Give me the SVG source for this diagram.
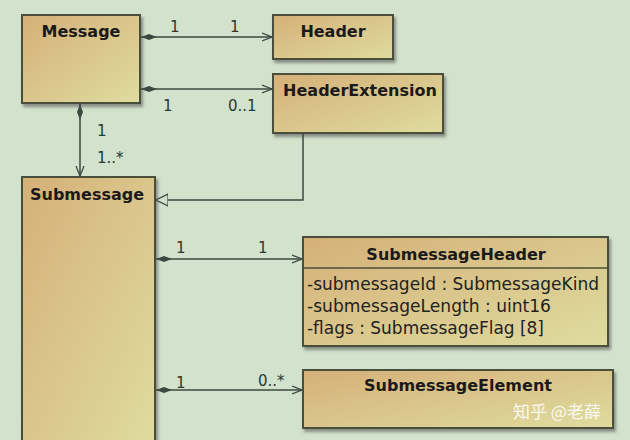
<svg xmlns="http://www.w3.org/2000/svg" width="630" height="440" viewBox="0 0 630 440">
<defs>
<linearGradient id="g" x1="0" y1="0" x2="1" y2="1"><stop offset="0" stop-color="#d5b078"/><stop offset="1" stop-color="#dfdc9f"/></linearGradient>
<filter id="sh" x="-10%" y="-10%" width="130%" height="130%"><feDropShadow dx="2" dy="3" stdDeviation="1.5" flood-color="#555" flood-opacity="0.6"/></filter>
<marker id="dia" viewBox="0 0 16 8" refX="0" refY="4" markerWidth="16" markerHeight="8" markerUnits="userSpaceOnUse" orient="auto"><path d="M0,4 L8,1 L16,4 L8,7 Z" fill="#3a4a40"/></marker>
<marker id="arr" viewBox="0 0 10 10" refX="10" refY="5" markerWidth="10" markerHeight="10" markerUnits="userSpaceOnUse" orient="auto"><path d="M0,1 L10,5 L0,9" fill="none" stroke="#3a4a40" stroke-width="1.3"/></marker>
<marker id="tri" viewBox="0 0 12 14" refX="12" refY="7" markerWidth="12" markerHeight="14" markerUnits="userSpaceOnUse" orient="auto"><path d="M0,1 L12,7 L0,13 Z" fill="#d3e2cc" stroke="#3a4a40" stroke-width="1.2"/></marker>
</defs>
<style>
.box{fill:url(#g);stroke:#4a4f3a;stroke-width:2;filter:url(#sh)}
.t{font-family:"DejaVu Sans",sans-serif;font-weight:bold;font-size:16px;fill:#1a1a1a}
.a{font-family:"DejaVu Sans",sans-serif;font-size:17px;fill:#222}
.m{font-family:"DejaVu Sans",sans-serif;font-size:15px;fill:#2a3a30}
.c{fill:none;stroke:#3a4a40;stroke-width:1.5}
</style>
<rect width="630" height="440" fill="#d3e2cc"/>
<g id="Message"><rect class="box" x="22" y="15" width="118" height="88"/><text class="t" x="81" y="37" text-anchor="middle">Message</text></g>
<g id="Header"><rect class="box" x="273" y="15" width="120" height="44"/><text class="t" x="333" y="37" text-anchor="middle">Header</text></g>
<g id="HeaderExtension"><rect class="box" x="273" y="74" width="170" height="59"/><text class="t" x="360" y="96" text-anchor="middle">HeaderExtension</text></g>
<g id="Submessage"><rect class="box" x="22" y="177" width="133" height="270"/><text class="t" x="30" y="200">Submessage</text></g>
<g id="SubmessageHeader"><rect class="box" x="303" y="237" width="305" height="109"/><line x1="303" y1="268" x2="608" y2="268" stroke="#4a4f3a" stroke-width="1.5"/><text class="t" x="456" y="260" text-anchor="middle">SubmessageHeader</text>
<text class="a" x="307" y="290" textLength="292" lengthAdjust="spacingAndGlyphs">-submessageId : SubmessageKind</text><text class="a" x="307" y="312" textLength="244" lengthAdjust="spacingAndGlyphs">-submessageLength : uint16</text><text class="a" x="307" y="334" textLength="237" lengthAdjust="spacingAndGlyphs">-flags : SubmessageFlag [8]</text></g>
<g id="SubmessageElement"><rect class="box" x="303" y="370" width="310" height="58"/><text class="t" x="458" y="391" text-anchor="middle">SubmessageElement</text></g>
<g id="connectors">
<path class="c" d="M141,37 H272" marker-start="url(#dia)" marker-end="url(#arr)"/>
<path class="c" d="M141,89 H272" marker-start="url(#dia)" marker-end="url(#arr)"/>
<path class="c" d="M80,104 V176" marker-start="url(#dia)" marker-end="url(#arr)"/>
<path class="c" d="M303,134 V200 H156" marker-end="url(#tri)"/>
<path class="c" d="M156,259 H302" marker-start="url(#dia)" marker-end="url(#arr)"/>
<path class="c" d="M156,390 H302" marker-start="url(#dia)" marker-end="url(#arr)"/>
<text class="m" x="170" y="32">1</text><text class="m" x="230" y="32">1</text>
<text class="m" x="163" y="111">1</text><text class="m" x="228" y="111">0..1</text>
<text class="m" x="97" y="136">1</text><text class="m" x="97" y="163">1..*</text>
<text class="m" x="176" y="253">1</text><text class="m" x="258" y="253">1</text>
<text class="m" x="176" y="388">1</text><text class="m" x="258" y="386">0..*</text>
</g>
<text x="513" y="418" font-family="'Noto Sans CJK SC',sans-serif" font-size="17" fill="#ffffff" fill-opacity="0.9">知乎 @老薛</text>
</svg>
